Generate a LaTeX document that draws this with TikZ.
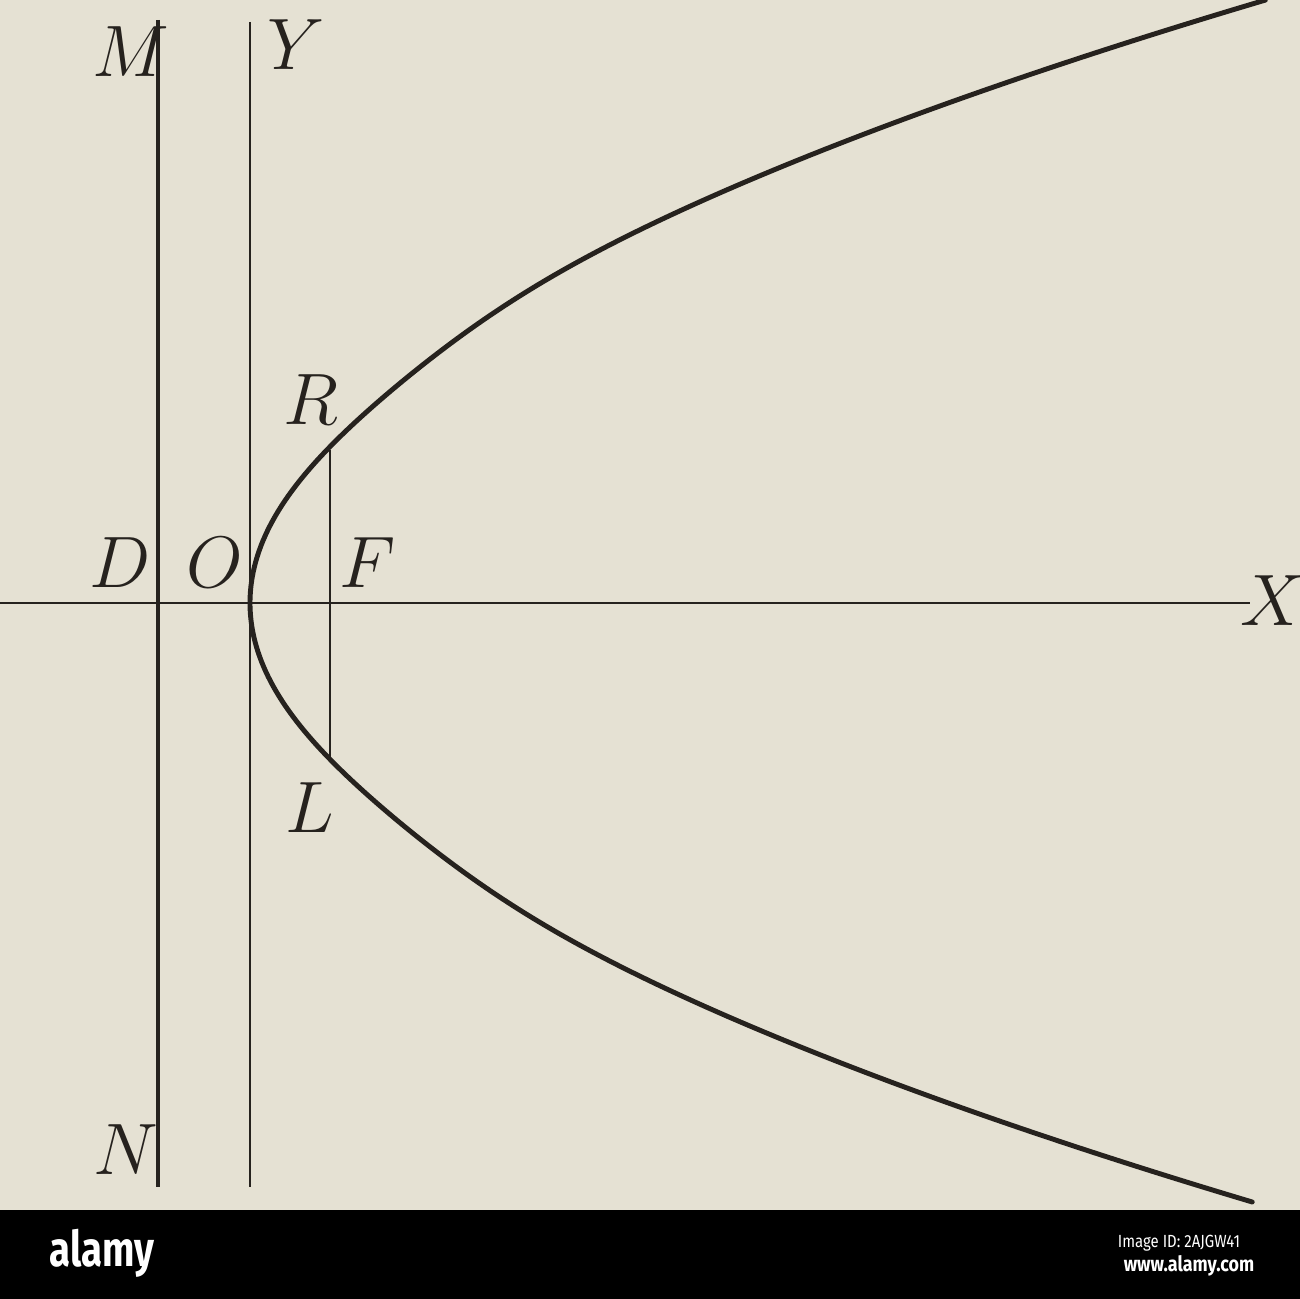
\documentclass[tikz,border=0pt]{standalone}
\usepackage{fontspec}
\newfontfamily\barfont{Fira Sans}
\definecolor{paper}{RGB}{229,225,211}
\definecolor{ink}{RGB}{38,34,30}
\tikzset{
  lab/.style={inner sep=0pt, text=ink, font=\fontsize{20pt}{24pt}\selectfont},
  heavy/.style={draw=ink, line width=1.4pt},
  light/.style={draw=ink, line width=0.8pt},
  hair/.style={draw=ink, line width=0.6pt},
  curve/.style={draw=ink, line width=1.4pt, line cap=round},
  bartext/.style={inner sep=0pt, text=white, anchor=center}
}
\begin{document}
\begin{tikzpicture}[x=0.1mm,y=-0.1mm]
\useasboundingbox (0,0) rectangle (1300,1299);
\fill[paper] (0,0) rectangle (1300,1210);
\fill[black] (0,1210) rectangle (1300,1299);
% coordinates
\coordinate (Mtop) at (158,20);
\coordinate (Nbot) at (158,1187);
\coordinate (Ytop) at (250,22);
\coordinate (Ybot) at (250,1187);
\coordinate (Xl) at (0,603);
\coordinate (Xr) at (1250,603);
\coordinate (Rpt) at (330,450);
\coordinate (Lpt) at (330,757);
% lines
\draw[heavy] (Mtop) -- (Nbot);
\draw[light] (Ytop) -- (Ybot);
\draw[hair] (Xl) -- (Xr);
\draw[hair] (Rpt) -- (Lpt);
% parabola
\draw[curve] plot[domain=-5.99:6.03, samples=241, variable=\s]
  ({250+100*\s*\s/(3.58-0.6*exp(-(\s*\s/6.76)^2))}, {603-100*\s});
% labels
\node[lab] (M) at (131,52) {$M$};
\node[lab] (Y) at (296,45) {$Y$};
\node[lab] (R) at (311,400) {$R$};
\node[lab] (D) at (120,563) {$D$};
\node[lab] (O) at (215,563) {$O$};
\node[lab] (F) at (368,563) {$F$};
\node[lab] (X) at (1273,601) {$X$};
\node[lab] (L) at (310,808) {$L$};
\node[lab] (N) at (126,1150) {$N$};
% bottom bar
\node[bartext, xscale=0.78, font=\barfont\bfseries\fontsize{14pt}{16pt}\selectfont] (logo) at (102,1253) {alamy};
\node[bartext, xscale=0.85, font=\barfont\fontsize{5pt}{6pt}\selectfont] (imgid) at (1179,1243) {Image ID: 2AJGW41};
\node[bartext, xscale=0.85, font=\barfont\bfseries\fontsize{6pt}{7pt}\selectfont] (www) at (1189,1266) {www.alamy.com};
\end{tikzpicture}
\end{document}
